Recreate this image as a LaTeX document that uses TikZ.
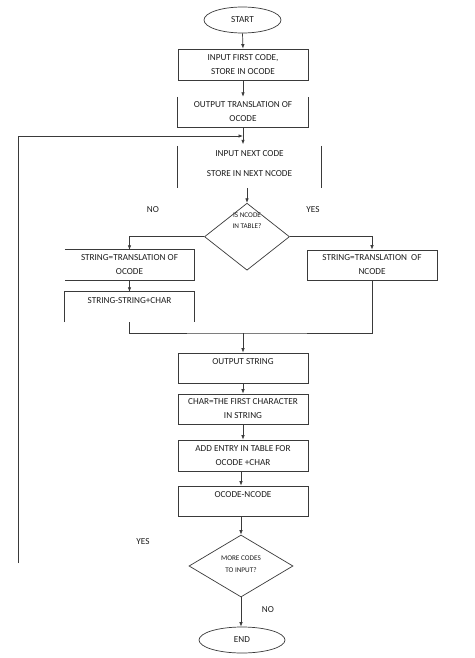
\documentclass[tikz,border=0pt]{standalone}
\usepackage{fontspec}
\setmainfont{Carlito}
\usetikzlibrary{shapes.geometric,arrows.meta,calc}
\definecolor{linecol}{HTML}{3A3A3A}
\definecolor{txtcol}{HTML}{1E1E1E}
\begin{document}
\begin{tikzpicture}[x=1pt,y=-1pt,
  line/.style={draw=linecol, line width=0.7pt},
  arr/.style={line, -{Latex[length=4.5pt,width=3.5pt]}},
  boxshape/.style={minimum width=130pt, minimum height=30pt, inner sep=0pt},
  fullbox/.style={boxshape, draw=linecol, line width=0.7pt},
  txt/.style={font=\fontsize{9.2}{14}\selectfont, text=txtcol, align=center},
  dtxt/.style={font=\fontsize{7.2}{11.5}\selectfont, text=txtcol, align=center},
  oval/.style={ellipse, draw=linecol, line width=0.7pt, inner sep=0pt},
  dia/.style={diamond, draw=linecol, line width=0.7pt, inner sep=0pt}
]
\fill[white] (0,0) rectangle (474,658);
\useasboundingbox (0,0) rectangle (474,658);

% nodes
\node[oval, minimum width=77pt, minimum height=26pt, txt] (start) at (242.5,20) {START};
\node[fullbox, minimum height=31pt, txt] (b1) at (243,64.5) {INPUT FIRST CODE,\\STORE IN OCODE};
\node[boxshape, txt] (b2) at (243,112) {OUTPUT TRANSLATION OF\\OCODE};
\draw[line] (b2.north west) -- (b2.south west) -- (b2.south east) -- (b2.north east);
\node[boxshape, minimum width=143pt, minimum height=42pt] (b3) at (249.5,167) {};
\node[txt, font=\fontsize{9.2}{20}\selectfont] (b3t) at (249.5,164) {INPUT NEXT CODE\\STORE IN NEXT NCODE};
\draw[line] (b3.north west) -- (b3.south west);
\draw[line] (b3.north east) -- (b3.south east);

\node[dia, minimum width=85pt, minimum height=67pt] (d1) at (247,236.7) {};
\node[dtxt] (d1t) at (247,220.5) {IS NCODE\\IN TABLE?};

\node[boxshape, minimum width=129pt, txt] (l1) at (129.5,265) {STRING=TRANSLATION OF\\OCODE};
\draw[line] (l1.north west) -- (l1.north east) -- (l1.south east) -- (l1.south west);
\node[boxshape, minimum width=129pt] (l2) at (129.5,307) {};
\node[txt] (l2t) at (129.5,301) {STRING-STRING+CHAR};
\draw[line] (l2.south west) -- (l2.north west) -- (l2.north east) -- (l2.south east);
\node[fullbox, txt] (r1) at (372,265) {STRING=TRANSLATION\ \ OF\\NCODE};

\node[fullbox] (b4) at (243,368) {};
\node[txt] (b4t) at (243,362) {OUTPUT STRING};
\node[fullbox, txt] (b5) at (243,409) {CHAR=THE FIRST CHARACTER\\IN STRING};
\node[fullbox, minimum height=31pt, txt] (b6) at (243,455.5) {ADD ENTRY IN TABLE FOR\\OCODE +CHAR};
\node[fullbox] (b7) at (243,501) {};
\node[txt] (b7t) at (243,495) {OCODE-NCODE};

\node[dia, minimum width=104pt, minimum height=62pt] (d2) at (241,566) {};
\node[dtxt] (d2t) at (241,564) {MORE CODES\\TO INPUT?};
\node[oval, minimum width=86pt, minimum height=26pt, txt] (end) at (242,640) {END};

% labels
\node[txt] (no1) at (153,210) {NO};
\node[txt] (yes1) at (313,210) {YES};
\node[txt] (yes2) at (143,542) {YES};
\node[txt] (no2) at (268,610) {NO};

% connectors
\draw[arr] (start.south) -- (b1.north);
\draw[arr] (b1.south) -- (b2.north);
\draw[arr] (b2.south) -- ([yshift=1.5pt]b2.south |- b3.north);
\coordinate (lb) at (18,563);
\coordinate (lj) at (243,136);
\draw[arr] (lb) |- (lj);
\draw[arr] (d1.north |- b3.south) -- (d1.north);
\draw[arr] (d1.west) -| (l1.north);
\draw[arr] (d1.east) -| (r1.north);
\draw[arr] (l1.south) -- (l2.north);
\coordinate (mj) at (243,333);
\draw[line] (r1.south) |- (mj) -| (l2.south);
\draw[arr] (mj) -- (b4.north);
\draw[arr] (b4.south) -- (b5.north);
\draw[arr] (b5.south) -- (b6.north);
\draw[arr] ([xshift=-2pt]b6.south) -- ([xshift=-2pt]b7.north);
\draw[arr] (b7.south -| d2.north) -- (d2.north);
\draw[arr] (d2.south) -- (d2.south |- end.north);
\end{tikzpicture}
\end{document}
